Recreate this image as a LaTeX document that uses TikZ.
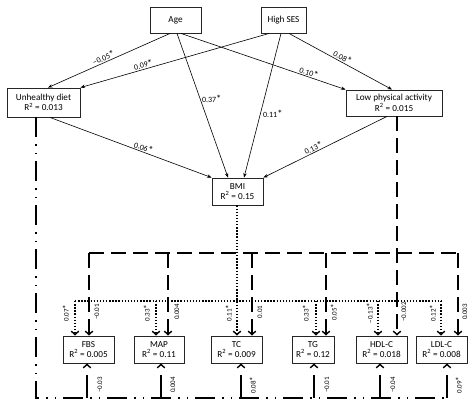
\documentclass[tikz,border=0pt]{standalone}
\usepackage{fontspec}
\usepackage{graphicx}
\setmainfont{Carlito}
\usetikzlibrary{arrows.meta,calc}
\newcommand\sg{\raisebox{-0.15ex}{\scalebox{1.3}{*}}}
\begin{document}
\begin{tikzpicture}[x=1pt,y=-1pt,
  box/.style={draw=black!85,line width=0.9pt,inner sep=1pt,align=center,font=\fontsize{9.2}{10.5}\selectfont,minimum height=27pt,text=black},
  arr/.style={line width=0.6pt,-{Stealth[length=4.5pt,width=3.5pt]}},
  lab/.style={font=\fontsize{8}{9}\selectfont,inner sep=0.5pt,text=black},
  vlab/.style={font=\fontsize{7}{7}\selectfont,rotate=90,inner sep=0.3pt,text=black},
  head/.style={-{Straight Barb[length=3.5pt,width=7.5pt,line width=1.4pt]}},
  dashl/.style={line width=1.5pt,dash pattern=on 15pt off 7pt},
  dotl/.style={line width=1.4pt,dash pattern=on 1.4pt off 1.7pt},
  ddl/.style={line width=1.5pt,dash pattern=on 20pt off 7pt on 1.5pt off 7pt on 1.5pt off 7pt},
  upl/.style={line width=1.5pt,dash pattern=on 23pt off 20pt},
]
\fill[white] (0,0) rectangle (474,405);
\useasboundingbox (0,0) rectangle (474,405);

% nodes
\node[box,minimum width=51pt,minimum height=26pt] (age) at (175.5,20) {Age};
\node[box,minimum width=45pt,minimum height=26pt] (ses) at (283.5,20) {High SES};
\node[box,minimum width=73pt,minimum height=29pt] (ud) at (43.5,102.5) {Unhealthy diet\\R\textsuperscript{2} = 0.013};
\node[box,minimum width=96pt,minimum height=26pt] (lpa) at (394,103) {Low physical activity\\R\textsuperscript{2} = 0.015};
\node[box,minimum width=51pt,minimum height=27pt] (bmi) at (237.5,191.5) {BMI\\R\textsuperscript{2} = 0.15};

\node[box,minimum width=51pt] (fbs) at (88.5,349.5) {FBS\\R\textsuperscript{2} = 0.005};
\node[box,minimum width=50pt] (map) at (159,349.5) {MAP\\R\textsuperscript{2} = 0.11};
\node[box,minimum width=51pt] (tc) at (236.5,349.5) {TC\\R\textsuperscript{2} = 0.009};
\node[box,minimum width=42pt] (tg) at (313,349.5) {TG\\R\textsuperscript{2} = 0.12};
\node[box,minimum width=51pt] (hdl) at (381.5,349.5) {HDL-C\\R\textsuperscript{2} = 0.018};
\node[box,minimum width=51pt] (ldl) at (441.5,349.5) {LDL-C\\R\textsuperscript{2} = 0.008};

% top arrows
\draw[arr] ([xshift=-5.5pt]age.south) -- node[lab,sloped,above,pos=0.53]{−0.05\sg} ([xshift=4.5pt]ud.north);
\draw[arr] ([xshift=-14.5pt]ses.south) -- node[lab,sloped,above,pos=0.66]{0.09\sg} (ud.north east);
\draw[arr] ([xshift=5.5pt]age.south) -- node[lab,sloped,above,pos=0.77]{0.10\sg} (lpa.north west);
\draw[arr] ([xshift=5.5pt]ses.south) -- node[lab,sloped,above,pos=0.5]{0.08\sg} ([xshift=-2pt]lpa.north);
\draw[arr] ([xshift=1.5pt]age.south) -- node[lab,right,pos=0.455,xshift=1pt]{0.37\sg} ([xshift=-9.5pt]bmi.north);
\draw[arr] ([xshift=-2.5pt]ses.south) -- node[lab,right,pos=0.56,xshift=2pt]{0.11\sg} ([xshift=6.5pt]bmi.north);
\draw[arr] ([xshift=6.5pt]ud.south) -- node[lab,sloped,above,pos=0.57]{0.06\sg} (bmi.north west);
\draw[arr] ([xshift=-7pt]lpa.south) -- node[lab,sloped,above,pos=0.58]{0.13\sg} (bmi.north east);

% dashed: low physical activity
\coordinate (dL) at (89,253);
\coordinate (dR) at (458,253);
\draw[dashl] (dL) -- (dR);
\foreach \n/\x in {fbs/89,map/168,tc/252,tg/326,ldl/458}{
  \coordinate (d\n) at (\x,253);
  \draw[dashl,head] (d\n) -- (d\n |- \n.north);
}
\draw[dashl,head] ([xshift=3pt]lpa.south) -- ([xshift=3pt]lpa.south |- hdl.north);

% dotted: BMI
\coordinate (tL) at (75,301);
\coordinate (tR) at (441,301);
\draw[dotl] (tL) -- (tR);
\foreach \n/\x in {fbs/75,map/156,tg/316,hdl/378,ldl/441}{
  \coordinate (t\n) at (\x,301);
  \draw[dotl,head] (t\n) -- (t\n |- \n.north);
}
\draw[dotl,head] ([xshift=-0.5pt]bmi.south) -- ([xshift=-0.5pt]bmi.south |- tc.north);

% dash-dot: unhealthy diet
\coordinate (bR) at (447,398);
\draw[ddl] ([xshift=-7.5pt]ud.south) |- (bR);
\foreach \n/\x in {fbs/87,map/161,tc/241,tg/314,hdl/380,ldl/447}{
  \coordinate (u\n) at (\x,398);
  \draw[upl,head] (u\n) -- (u\n |- \n.south);
}

% labels dotted
\foreach \x/\t in {66/0.07\sg,147/0.33\sg,229/0.11\sg,306/0.33\sg,370/−0.13\sg,433/0.12\sg}{
  \node[vlab] at (\x,313) {\t};
}
% labels dashed
\foreach \x/\t in {97/−0.01,177/0.004,260/0.01,334/0.05\sg,404/−0.002,465/0.003}{
  \node[vlab] at (\x,312) {\t};
}
% labels up
\foreach \x/\t in {100/−0.03,173/0.004,253/0.08\sg,327/−0.01,393/−0.04,459/0.09\sg}{
  \node[vlab] at (\x,385) {\t};
}
\end{tikzpicture}
\end{document}
